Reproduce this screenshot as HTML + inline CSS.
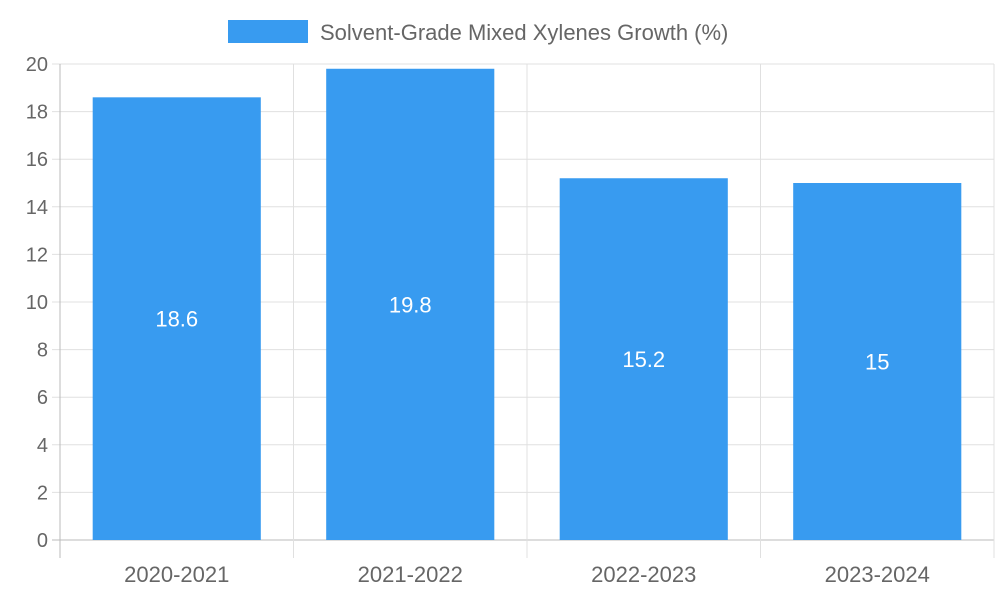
<!DOCTYPE html>
<html><head><meta charset="utf-8"><style>
body{margin:0;background:#fff;font-family:"Liberation Sans",sans-serif;}
svg text{font-family:"Liberation Sans",sans-serif;}
</style></head><body>
<svg id="chart" width="1000" height="600">
<g id="grid"></g>
<g id="bars"></g>
<g id="axes"></g>
<g>
<rect x="228" y="20" width="80" height="23" fill="#389bf0"/>
<text x="320" y="40" font-size="22" fill="#666">Solvent-Grade Mixed Xylenes Growth (%)</text>
</g>
</svg>
<script>
const categories=["2020-2021","2021-2022","2022-2023","2023-2024"];
const values=[18.6,19.8,15.2,15];
const yTicks=[0,2,4,6,8,10,12,14,16,18,20];
const X0=60,X1=994,Y0=540,Y1=64,YMAX=20;
const ns="http://www.w3.org/2000/svg";
const bw=(X1-X0)/categories.length;
const y=v=>Y0-(v/YMAX)*(Y0-Y1);
const x=i=>X0+i*bw;
function mk(p,tag,a,txt){const e=document.createElementNS(ns,tag);for(const k in a)e.setAttribute(k,a[k]);if(txt!==undefined)e.textContent=txt;document.getElementById(p).appendChild(e);return e;}
yTicks.forEach(t=>{
 const g=mk('grid','line',{x1:X0-8,x2:X1,y1:y(t),y2:y(t),stroke:t===0?'#bbb':'#e0e0e0','stroke-width':1});
 
 
 const l=mk('axes','text',{x:X0-12,y:y(t)+7,'text-anchor':'end','font-size':20,fill:'#666'},t);
 
 
});
for(let i=0;i<=categories.length;i++){
 const g=mk('grid','line',{x1:x(i),x2:x(i),y1:Y1,y2:Y0+18,stroke:i===0?'#bbb':'#e0e0e0','stroke-width':1});
 
 
}
categories.forEach((c,i)=>{
 const w=bw*0.72,bx=x(i)+(bw-w)/2;
 const r=mk('bars','rect',{x:bx,y:y(values[i]),width:w,height:Y0-y(values[i]),fill:'#389bf0'});
 
 
 const v=mk('bars','text',{x:x(i)+bw/2,y:(y(values[i])+Y0)/2+8,'text-anchor':'middle','font-size':22,fill:'#fff'},values[i]);
 
 
 const l=mk('axes','text',{x:x(i)+bw/2,y:582,'text-anchor':'middle','font-size':22,fill:'#666'},c);
 
 
});
</script>
</body></html>
